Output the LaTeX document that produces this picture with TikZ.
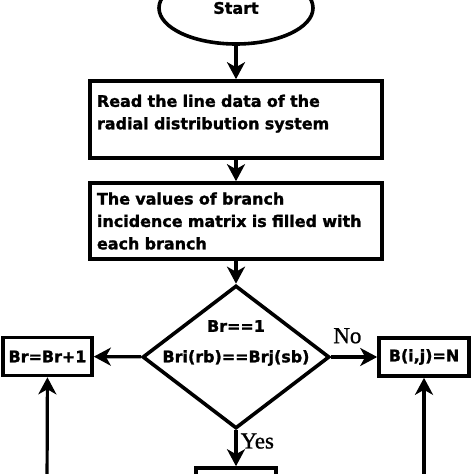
\documentclass[tikz,border=0pt]{standalone}
\usepackage{fontspec}
\setsansfont{DejaVu Sans}[BoldFeatures={FakeBold=1.4}]
\newfontfamily\tagfont{Liberation Serif}[FakeBold=1]
\usetikzlibrary{shapes.geometric,arrows.meta}

\begin{document}
\begin{tikzpicture}
  [x=1bp, y=-1bp,
   box/.style={draw, line width=3.6bp, inner sep=0,
     font=\sffamily\bfseries\fontsize{16}{22.5}\selectfont},
   note/.style={inner sep=0, font=\sffamily\bfseries\fontsize{16}{20}\selectfont},
   flow/.style={line width=3.2bp, -{Stealth[length=17bp, width=18bp, inset=5bp]}},
   tag/.style={inner sep=0, font=\tagfont\fontsize{23}{23}\selectfont}]

  \useasboundingbox (0,0) rectangle (474,474);
  \clip (0,0) rectangle (474,474);

  % start
  \node[box, ellipse, minimum width=154bp, minimum height=72bp] (start) at (236,8) {Start};

  % read line data
  \node[box, minimum width=292bp, minimum height=77bp, text width=278bp, align=left]
    (read) at (236,119.5)
    {Read the line data of the\\radial distribution system\rule[-15bp]{0pt}{1bp}};

  % incidence matrix
  \node[box, minimum width=292bp, minimum height=76bp, text width=278bp, align=left]
    (fill) at (236,221)
    {The values of branch\\incidence matrix is filled with\\each branch};

  % decision
  \node[box, diamond, minimum width=187bp, minimum height=143bp] (check) at (236,357) {};
  \node[note] (cond1) at (236,326) {Br==1};
  \node[note] (cond2) at (236,358) {Bri(rb)==Brj(sb)};

  % side boxes
  \node[box, minimum width=89bp, minimum height=38bp] (inc) at (47.5,356.5) {Br=Br+1};
  \node[box, minimum width=90bp, minimum height=38bp] (setn) at (424,357) {B(i,j)=N};
  \node[box, minimum width=80bp, minimum height=40bp] (next) at (236,488) {};

  \coordinate (incfoot) at (47,490);
  \coordinate (setnfoot) at (424,490);

  % arrows
  \draw[flow] (start) -- (read);
  \draw[flow] (read) -- (fill);
  \draw[flow] (fill) -- (check);
  \draw[flow] (check) -- (inc);
  \draw[flow] (check) -- node[tag, pos=0.35, above=12bp] {No} (setn);
  \draw[flow] (check) -- node[tag, pos=0.3, anchor=west, xshift=3bp] {Yes} (next);
  \draw[flow] (incfoot) -- (inc);
  \draw[flow] (setnfoot) -- (setn);

\end{tikzpicture}
\end{document}
